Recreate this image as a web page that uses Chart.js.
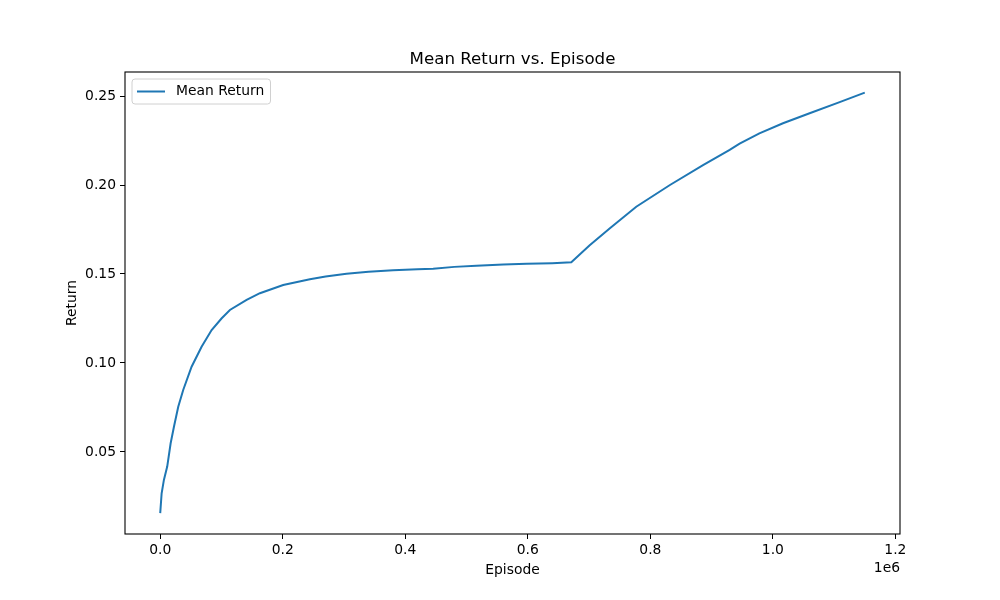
<!DOCTYPE html>
<html>
<head>
<meta charset="utf-8">
<script src="https://cdn.jsdelivr.net/npm/chart.js@4"></script>
<style>
  body { margin: 0; background: #fff; }
  canvas { display: block; }
</style>
</head>
<body>
<canvas id="returnChart" width="1000" height="600"></canvas>
<script>
// episode values in units of 1e6
const episodes = [0, 0.0023, 0.006, 0.0114, 0.017, 0.0224, 0.0294, 0.0375, 0.0512, 0.0675,
  0.0839, 0.1, 0.1137, 0.141, 0.1627, 0.2007, 0.2443, 0.27, 0.304, 0.34,
  0.38, 0.42, 0.4455, 0.48, 0.516, 0.56, 0.598, 0.64, 0.671, 0.701,
  0.734, 0.777, 0.832, 0.886, 0.9295, 0.9457, 0.978, 1.0165, 1.06, 1.109, 1.15];
const meanReturn = [0.0156, 0.0268, 0.0343, 0.0418, 0.0549, 0.0642, 0.0754, 0.0848, 0.0979, 0.1091,
  0.1185, 0.125, 0.1298, 0.1354, 0.1392, 0.1438, 0.147, 0.1486, 0.1502, 0.1512,
  0.1521, 0.1527, 0.153, 0.154, 0.1547, 0.1553, 0.1557, 0.1561, 0.1566, 0.1661,
  0.1757, 0.1878, 0.2, 0.2112, 0.2197, 0.2232, 0.229, 0.2347, 0.2403, 0.2466, 0.2519];
const xTicks = [0, 0.2, 0.4, 0.6, 0.8, 1.0, 1.2];
const yTicks = [0.05, 0.10, 0.15, 0.20, 0.25];

const FONT = "DejaVu Sans";
const LINE_COLOR = "#1f77b4";
const TITLE = "Mean Return vs. Episode";

// title over the plot, frame, legend box and the 1e6 offset text
const framePlugin = {
  id: "frame",
  afterDraw(chart) {
    const ctx = chart.ctx;
    const a = chart.chartArea;
    ctx.save();
    ctx.fillStyle = "#000";
    ctx.font = "16.67px '" + FONT + "'";
    ctx.textAlign = "center";
    ctx.textBaseline = "alphabetic";
    ctx.fillText(TITLE, (a.left + a.right) / 2, 64);

    ctx.strokeStyle = "#000";
    ctx.lineWidth = 1.1;
    ctx.strokeRect(a.left, a.top, a.right - a.left, a.bottom - a.top);

    // legend
    const lx = a.left + 7, ly = a.top + 7, lw = 138.5, lh = 25;
    ctx.beginPath();
    ctx.roundRect(lx, ly, lw, lh, 3);
    ctx.fillStyle = "rgba(255,255,255,0.8)";
    ctx.fill();
    ctx.strokeStyle = "#d0d0d0";
    ctx.lineWidth = 1;
    ctx.stroke();
    const cy = ly + lh / 2;
    ctx.beginPath();
    ctx.moveTo(lx + 5, cy);
    ctx.lineTo(lx + 33, cy);
    ctx.strokeStyle = LINE_COLOR;
    ctx.lineWidth = 2;
    ctx.stroke();
    ctx.fillStyle = "#000";
    ctx.font = "13.89px '" + FONT + "'";
    ctx.textBaseline = "middle";
    ctx.textAlign = "left";
    ctx.fillText(chart.data.datasets[0].label, lx + 44, cy);

    // offset text
    ctx.textAlign = "right";
    ctx.fillText("1e6", a.right, 568);
    ctx.restore();
  }
};

const ctx = document.getElementById("returnChart").getContext("2d");
const chart = new Chart(ctx, {
  type: "line",
  data: {
    datasets: [{
      label: "Mean Return",
      data: episodes.map((e, i) => ({ x: e, y: meanReturn[i] })),
      borderColor: LINE_COLOR,
      borderWidth: 2,
      pointRadius: 0,
      tension: 0,
      fill: false
    }]
  },
  options: {
    responsive: false,
    animation: false,
    layout: { padding: { left: 0, right: 100, top: 72, bottom: 0 } },
    plugins: {
      legend: { display: false },
      tooltip: { enabled: false },
      title: { display: false }
    },
    scales: {
      x: {
        type: "linear",
        min: -0.0575,
        max: 1.2075,
        afterBuildTicks: (s) => { s.ticks = xTicks.map((v) => ({ value: v })); },
        afterFit: (s) => { s.height = 66; },
        border: { display: false },
        grid: { drawOnChartArea: false, drawTicks: true, tickLength: 5, color: "#000", tickWidth: 1 },
        ticks: {
          color: "#000",
          font: { family: FONT, size: 13.89 },
          padding: 3,
          maxRotation: 0,
          autoSkip: false,
          callback: (v) => v.toFixed(1)
        },
        title: {
          display: true,
          text: "Episode",
          color: "#000",
          font: { family: FONT, size: 13.89 },
          padding: { top: 0, bottom: 21 }
        }
      },
      y: {
        type: "linear",
        min: 0.0039,
        max: 0.2635,
        afterBuildTicks: (s) => { s.ticks = yTicks.map((v) => ({ value: v })); },
        afterFit: (s) => { s.width = 125; },
        border: { display: false },
        grid: { drawOnChartArea: false, drawTicks: true, tickLength: 5, color: "#000", tickWidth: 1 },
        ticks: {
          color: "#000",
          font: { family: FONT, size: 13.89 },
          padding: 4,
          autoSkip: false,
          callback: (v) => v.toFixed(2)
        },
        title: {
          display: true,
          text: "Return",
          color: "#000",
          font: { family: FONT, size: 13.89 },
          padding: { top: 64, bottom: 0 }
        }
      }
    }
  },
  plugins: [framePlugin]
});
</script>
</body>
</html>
